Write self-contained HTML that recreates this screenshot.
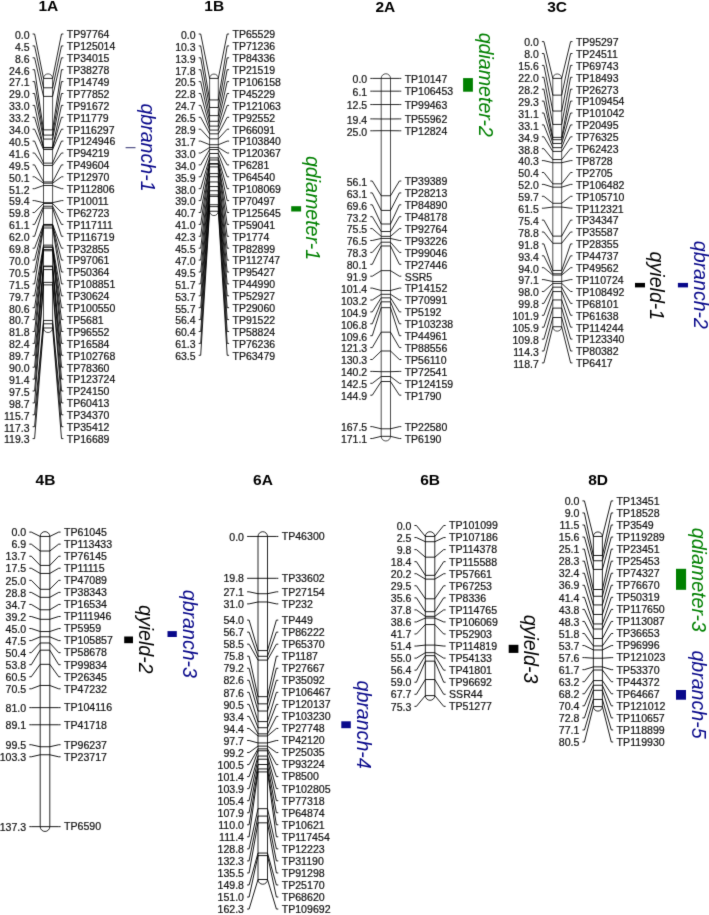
<!DOCTYPE html>
<html><head><meta charset="utf-8"><style>html,body{margin:0;padding:0;background:#fff;}svg{display:block;}text{font-family:"Liberation Sans",Arial,sans-serif;}.l{font-size:10.5px;fill:#111;stroke:#111;stroke-width:0.2px;}.t{font-size:15.5px;font-weight:bold;fill:#000;}.q{font-size:19.6px;font-style:italic;}</style></head><body>
<svg width="709" height="915" viewBox="0 0 709 915">
<defs><filter id="soft" x="0" y="0" width="709" height="915" filterUnits="userSpaceOnUse" color-interpolation-filters="sRGB"><feConvolveMatrix order="3" kernelMatrix="0.01 0.08 0.01 0.08 0.64 0.08 0.01 0.08 0.01" divisor="1" edgeMode="duplicate"/></filter></defs>
<g filter="url(#soft)">
<rect width="709" height="915" fill="#fff"/>
<text class="t" x="48.40" y="11.00" text-anchor="middle">1A</text>
<path d="M43.50,78.40 A4.55,4.55 0 0 1 52.60,78.40 L52.60,327.98 A4.55,4.55 0 0 1 43.50,327.98 Z" fill="#fff" stroke="#000" stroke-width="0.7"/>
<path d="M32.60,34.00H34.60L43.50,78.40H52.60L61.50,34.00H63.40M32.60,45.90H34.60L43.50,87.81H52.60L61.50,45.90H63.40M32.60,57.80H34.60L43.50,96.39H52.60L61.50,57.80H63.40M32.60,69.70H34.60L43.50,129.86H52.60L61.50,69.70H63.40M32.60,81.60H34.60L43.50,135.09H52.60L61.50,81.60H63.40M32.60,93.50H34.60L43.50,139.07H52.60L61.50,93.50H63.40M32.60,105.40H34.60L43.50,147.44H52.60L61.50,105.40H63.40M32.60,117.30H34.60L43.50,147.85H52.60L61.50,117.30H63.40M32.60,129.20H34.60L43.50,149.53H52.60L61.50,129.20H63.40M32.60,141.10H34.60L43.50,163.13H52.60L61.50,141.10H63.40M32.60,153.00H34.60L43.50,165.43H52.60L61.50,153.00H63.40M32.60,164.90H34.60L43.50,181.95H52.60L61.50,164.90H63.40M32.60,176.80H34.60L43.50,183.21H52.60L61.50,176.80H63.40M32.60,188.70H34.60L43.50,185.51H52.60L61.50,188.70H63.40M32.60,200.60H34.60L43.50,202.66H52.60L61.50,200.60H63.40M32.60,212.50H34.60L43.50,203.50H52.60L61.50,212.50H63.40M32.60,224.40H34.60L43.50,206.22H52.60L61.50,224.40H63.40M32.60,236.30H34.60L43.50,208.10H52.60L61.50,236.30H63.40M32.60,248.20H34.60L43.50,224.42H52.60L61.50,248.20H63.40M32.60,260.10H34.60L43.50,224.84H52.60L61.50,260.10H63.40M32.60,272.00H34.60L43.50,225.89H52.60L61.50,272.00H63.40M32.60,283.90H34.60L43.50,227.98H52.60L61.50,283.90H63.40M32.60,295.80H34.60L43.50,245.13H52.60L61.50,295.80H63.40M32.60,307.70H34.60L43.50,247.02H52.60L61.50,307.70H63.40M32.60,319.60H34.60L43.50,247.22H52.60L61.50,319.60H63.40M32.60,331.50H34.60L43.50,249.53H52.60L61.50,331.50H63.40M32.60,343.40H34.60L43.50,250.78H52.60L61.50,343.40H63.40M32.60,355.30H34.60L43.50,266.05H52.60L61.50,355.30H63.40M32.60,367.20H34.60L43.50,266.68H52.60L61.50,367.20H63.40M32.60,379.10H34.60L43.50,269.61H52.60L61.50,379.10H63.40M32.60,391.00H34.60L43.50,282.37H52.60L61.50,391.00H63.40M32.60,402.90H34.60L43.50,284.88H52.60L61.50,402.90H63.40M32.60,414.80H34.60L43.50,320.44H52.60L61.50,414.80H63.40M32.60,426.70H34.60L43.50,323.79H52.60L61.50,426.70H63.40M32.60,438.60H34.60L43.50,327.98H52.60L61.50,438.60H63.40" fill="none" stroke="#000" stroke-width="0.85"/>
<text class="l" x="29.5" y="38.8" text-anchor="end" style="font-size:10.5px">0.0</text><text class="l" x="66.8" y="38.3" style="font-size:10.5px">TP97764</text>
<text class="l" x="29.5" y="50.7" text-anchor="end" style="font-size:10.5px">4.5</text><text class="l" x="66.8" y="50.2" style="font-size:10.5px">TP125014</text>
<text class="l" x="29.5" y="62.6" text-anchor="end" style="font-size:10.5px">8.6</text><text class="l" x="66.8" y="62.1" style="font-size:10.5px">TP34015</text>
<text class="l" x="29.5" y="74.5" text-anchor="end" style="font-size:10.5px">24.6</text><text class="l" x="66.8" y="74.0" style="font-size:10.5px">TP38278</text>
<text class="l" x="29.5" y="86.4" text-anchor="end" style="font-size:10.5px">27.1</text><text class="l" x="66.8" y="85.9" style="font-size:10.5px">TP14749</text>
<text class="l" x="29.5" y="98.3" text-anchor="end" style="font-size:10.5px">29.0</text><text class="l" x="66.8" y="97.8" style="font-size:10.5px">TP77852</text>
<text class="l" x="29.5" y="110.2" text-anchor="end" style="font-size:10.5px">33.0</text><text class="l" x="66.8" y="109.7" style="font-size:10.5px">TP91672</text>
<text class="l" x="29.5" y="122.1" text-anchor="end" style="font-size:10.5px">33.2</text><text class="l" x="66.8" y="121.6" style="font-size:10.5px">TP11779</text>
<text class="l" x="29.5" y="134.0" text-anchor="end" style="font-size:10.5px">34.0</text><text class="l" x="66.8" y="133.5" style="font-size:10.5px">TP116297</text>
<text class="l" x="29.5" y="145.9" text-anchor="end" style="font-size:10.5px">40.5</text><text class="l" x="66.8" y="145.4" style="font-size:10.5px">TP124946</text>
<text class="l" x="29.5" y="157.8" text-anchor="end" style="font-size:10.5px">41.6</text><text class="l" x="66.8" y="157.3" style="font-size:10.5px">TP94219</text>
<text class="l" x="29.5" y="169.7" text-anchor="end" style="font-size:10.5px">49.5</text><text class="l" x="66.8" y="169.2" style="font-size:10.5px">TP49604</text>
<text class="l" x="29.5" y="181.6" text-anchor="end" style="font-size:10.5px">50.1</text><text class="l" x="66.8" y="181.1" style="font-size:10.5px">TP12970</text>
<text class="l" x="29.5" y="193.5" text-anchor="end" style="font-size:10.5px">51.2</text><text class="l" x="66.8" y="193.0" style="font-size:10.5px">TP112806</text>
<text class="l" x="29.5" y="205.4" text-anchor="end" style="font-size:10.5px">59.4</text><text class="l" x="66.8" y="204.9" style="font-size:10.5px">TP10011</text>
<text class="l" x="29.5" y="217.3" text-anchor="end" style="font-size:10.5px">59.8</text><text class="l" x="66.8" y="216.8" style="font-size:10.5px">TP62723</text>
<text class="l" x="29.5" y="229.2" text-anchor="end" style="font-size:10.5px">61.1</text><text class="l" x="66.8" y="228.7" style="font-size:10.5px">TP117111</text>
<text class="l" x="29.5" y="241.1" text-anchor="end" style="font-size:10.5px">62.0</text><text class="l" x="66.8" y="240.6" style="font-size:10.5px">TP116719</text>
<text class="l" x="29.5" y="253.0" text-anchor="end" style="font-size:10.5px">69.8</text><text class="l" x="66.8" y="252.5" style="font-size:10.5px">TP32855</text>
<text class="l" x="29.5" y="264.9" text-anchor="end" style="font-size:10.5px">70.0</text><text class="l" x="66.8" y="264.4" style="font-size:10.5px">TP97061</text>
<text class="l" x="29.5" y="276.8" text-anchor="end" style="font-size:10.5px">70.5</text><text class="l" x="66.8" y="276.3" style="font-size:10.5px">TP50364</text>
<text class="l" x="29.5" y="288.7" text-anchor="end" style="font-size:10.5px">71.5</text><text class="l" x="66.8" y="288.2" style="font-size:10.5px">TP108851</text>
<text class="l" x="29.5" y="300.6" text-anchor="end" style="font-size:10.5px">79.7</text><text class="l" x="66.8" y="300.1" style="font-size:10.5px">TP30624</text>
<text class="l" x="29.5" y="312.5" text-anchor="end" style="font-size:10.5px">80.6</text><text class="l" x="66.8" y="312.0" style="font-size:10.5px">TP100550</text>
<text class="l" x="29.5" y="324.4" text-anchor="end" style="font-size:10.5px">80.7</text><text class="l" x="66.8" y="323.9" style="font-size:10.5px">TP5681</text>
<text class="l" x="29.5" y="336.3" text-anchor="end" style="font-size:10.5px">81.8</text><text class="l" x="66.8" y="335.8" style="font-size:10.5px">TP96552</text>
<text class="l" x="29.5" y="348.2" text-anchor="end" style="font-size:10.5px">82.4</text><text class="l" x="66.8" y="347.7" style="font-size:10.5px">TP16584</text>
<text class="l" x="29.5" y="360.1" text-anchor="end" style="font-size:10.5px">89.7</text><text class="l" x="66.8" y="359.6" style="font-size:10.5px">TP102768</text>
<text class="l" x="29.5" y="372.0" text-anchor="end" style="font-size:10.5px">90.0</text><text class="l" x="66.8" y="371.5" style="font-size:10.5px">TP78360</text>
<text class="l" x="29.5" y="383.9" text-anchor="end" style="font-size:10.5px">91.4</text><text class="l" x="66.8" y="383.4" style="font-size:10.5px">TP123724</text>
<text class="l" x="29.5" y="395.8" text-anchor="end" style="font-size:10.5px">97.5</text><text class="l" x="66.8" y="395.3" style="font-size:10.5px">TP24150</text>
<text class="l" x="29.5" y="407.7" text-anchor="end" style="font-size:10.5px">98.7</text><text class="l" x="66.8" y="407.2" style="font-size:10.5px">TP60413</text>
<text class="l" x="29.5" y="419.6" text-anchor="end" style="font-size:10.5px">115.7</text><text class="l" x="66.8" y="419.1" style="font-size:10.5px">TP34370</text>
<text class="l" x="29.5" y="431.5" text-anchor="end" style="font-size:10.5px">117.3</text><text class="l" x="66.8" y="431.0" style="font-size:10.5px">TP35412</text>
<text class="l" x="29.5" y="443.4" text-anchor="end" style="font-size:10.5px">119.3</text><text class="l" x="66.8" y="442.9" style="font-size:10.5px">TP16689</text>
<rect x="125.6" y="147.2" width="9.9" height="1.0" fill="#2e2e70"/>
<text class="q" fill="#08088a" transform="translate(140.7,147.5) rotate(90)" text-anchor="middle">qbranch-1</text>
<text class="t" x="214.20" y="11.40" text-anchor="middle">1B</text>
<path d="M209.60,78.40 A4.35,4.35 0 0 1 218.30,78.40 L218.30,211.24 A4.35,4.35 0 0 1 209.60,211.24 Z" fill="#fff" stroke="#000" stroke-width="0.7"/>
<path d="M198.70,34.00H200.70L209.60,78.40H218.30L227.20,34.00H229.10M198.70,45.90H200.70L209.60,99.95H218.30L227.20,45.90H229.10M198.70,57.80H200.70L209.60,107.48H218.30L227.20,57.80H229.10M198.70,69.70H200.70L209.60,115.64H218.30L227.20,69.70H229.10M198.70,81.60H200.70L209.60,121.29H218.30L227.20,81.60H229.10M198.70,93.50H200.70L209.60,126.10H218.30L227.20,93.50H229.10M198.70,105.40H200.70L209.60,130.07H218.30L227.20,105.40H229.10M198.70,117.30H200.70L209.60,133.84H218.30L227.20,117.30H229.10M198.70,129.20H200.70L209.60,138.86H218.30L227.20,129.20H229.10M198.70,141.10H200.70L209.60,144.72H218.30L227.20,141.10H229.10M198.70,153.00H200.70L209.60,147.44H218.30L227.20,153.00H229.10M198.70,164.90H200.70L209.60,149.53H218.30L227.20,164.90H229.10M198.70,176.80H200.70L209.60,153.50H218.30L227.20,176.80H229.10M198.70,188.70H200.70L209.60,157.90H218.30L227.20,188.70H229.10M198.70,200.60H200.70L209.60,159.99H218.30L227.20,200.60H229.10M198.70,212.50H200.70L209.60,163.54H218.30L227.20,212.50H229.10M198.70,224.40H200.70L209.60,164.17H218.30L227.20,224.40H229.10M198.70,236.30H200.70L209.60,166.89H218.30L227.20,236.30H229.10M198.70,248.20H200.70L209.60,173.59H218.30L227.20,248.20H229.10M198.70,260.10H200.70L209.60,176.72H218.30L227.20,260.10H229.10M198.70,272.00H200.70L209.60,181.95H218.30L227.20,272.00H229.10M198.70,283.90H200.70L209.60,186.56H218.30L227.20,283.90H229.10M198.70,295.80H200.70L209.60,190.74H218.30L227.20,295.80H229.10M198.70,307.70H200.70L209.60,194.92H218.30L227.20,307.70H229.10M198.70,319.60H200.70L209.60,196.39H218.30L227.20,319.60H229.10M198.70,331.50H200.70L209.60,204.76H218.30L227.20,331.50H229.10M198.70,343.40H200.70L209.60,206.64H218.30L227.20,343.40H229.10M198.70,355.30H200.70L209.60,211.24H218.30L227.20,355.30H229.10" fill="none" stroke="#000" stroke-width="0.85"/>
<text class="l" x="195.6" y="38.8" text-anchor="end" style="font-size:10.5px">0.0</text><text class="l" x="232.5" y="38.3" style="font-size:10.5px">TP65529</text>
<text class="l" x="195.6" y="50.7" text-anchor="end" style="font-size:10.5px">10.3</text><text class="l" x="232.5" y="50.2" style="font-size:10.5px">TP71236</text>
<text class="l" x="195.6" y="62.6" text-anchor="end" style="font-size:10.5px">13.9</text><text class="l" x="232.5" y="62.1" style="font-size:10.5px">TP84336</text>
<text class="l" x="195.6" y="74.5" text-anchor="end" style="font-size:10.5px">17.8</text><text class="l" x="232.5" y="74.0" style="font-size:10.5px">TP21519</text>
<text class="l" x="195.6" y="86.4" text-anchor="end" style="font-size:10.5px">20.5</text><text class="l" x="232.5" y="85.9" style="font-size:10.5px">TP106158</text>
<text class="l" x="195.6" y="98.3" text-anchor="end" style="font-size:10.5px">22.8</text><text class="l" x="232.5" y="97.8" style="font-size:10.5px">TP45229</text>
<text class="l" x="195.6" y="110.2" text-anchor="end" style="font-size:10.5px">24.7</text><text class="l" x="232.5" y="109.7" style="font-size:10.5px">TP121063</text>
<text class="l" x="195.6" y="122.1" text-anchor="end" style="font-size:10.5px">26.5</text><text class="l" x="232.5" y="121.6" style="font-size:10.5px">TP92552</text>
<text class="l" x="195.6" y="134.0" text-anchor="end" style="font-size:10.5px">28.9</text><text class="l" x="232.5" y="133.5" style="font-size:10.5px">TP66091</text>
<text class="l" x="195.6" y="145.9" text-anchor="end" style="font-size:10.5px">31.7</text><text class="l" x="232.5" y="145.4" style="font-size:10.5px">TP103840</text>
<text class="l" x="195.6" y="157.8" text-anchor="end" style="font-size:10.5px">33.0</text><text class="l" x="232.5" y="157.3" style="font-size:10.5px">TP120367</text>
<text class="l" x="195.6" y="169.7" text-anchor="end" style="font-size:10.5px">34.0</text><text class="l" x="232.5" y="169.2" style="font-size:10.5px">TP6281</text>
<text class="l" x="195.6" y="181.6" text-anchor="end" style="font-size:10.5px">35.9</text><text class="l" x="232.5" y="181.1" style="font-size:10.5px">TP64540</text>
<text class="l" x="195.6" y="193.5" text-anchor="end" style="font-size:10.5px">38.0</text><text class="l" x="232.5" y="193.0" style="font-size:10.5px">TP108069</text>
<text class="l" x="195.6" y="205.4" text-anchor="end" style="font-size:10.5px">39.0</text><text class="l" x="232.5" y="204.9" style="font-size:10.5px">TP70497</text>
<text class="l" x="195.6" y="217.3" text-anchor="end" style="font-size:10.5px">40.7</text><text class="l" x="232.5" y="216.8" style="font-size:10.5px">TP125645</text>
<text class="l" x="195.6" y="229.2" text-anchor="end" style="font-size:10.5px">41.0</text><text class="l" x="232.5" y="228.7" style="font-size:10.5px">TP59041</text>
<text class="l" x="195.6" y="241.1" text-anchor="end" style="font-size:10.5px">42.3</text><text class="l" x="232.5" y="240.6" style="font-size:10.5px">TP1774</text>
<text class="l" x="195.6" y="253.0" text-anchor="end" style="font-size:10.5px">45.5</text><text class="l" x="232.5" y="252.5" style="font-size:10.5px">TP82899</text>
<text class="l" x="195.6" y="264.9" text-anchor="end" style="font-size:10.5px">47.0</text><text class="l" x="232.5" y="264.4" style="font-size:10.5px">TP112747</text>
<text class="l" x="195.6" y="276.8" text-anchor="end" style="font-size:10.5px">49.5</text><text class="l" x="232.5" y="276.3" style="font-size:10.5px">TP95427</text>
<text class="l" x="195.6" y="288.7" text-anchor="end" style="font-size:10.5px">51.7</text><text class="l" x="232.5" y="288.2" style="font-size:10.5px">TP44990</text>
<text class="l" x="195.6" y="300.6" text-anchor="end" style="font-size:10.5px">53.7</text><text class="l" x="232.5" y="300.1" style="font-size:10.5px">TP52927</text>
<text class="l" x="195.6" y="312.5" text-anchor="end" style="font-size:10.5px">55.7</text><text class="l" x="232.5" y="312.0" style="font-size:10.5px">TP29060</text>
<text class="l" x="195.6" y="324.4" text-anchor="end" style="font-size:10.5px">56.4</text><text class="l" x="232.5" y="323.9" style="font-size:10.5px">TP91522</text>
<text class="l" x="195.6" y="336.3" text-anchor="end" style="font-size:10.5px">60.4</text><text class="l" x="232.5" y="335.8" style="font-size:10.5px">TP58824</text>
<text class="l" x="195.6" y="348.2" text-anchor="end" style="font-size:10.5px">61.3</text><text class="l" x="232.5" y="347.7" style="font-size:10.5px">TP76236</text>
<text class="l" x="195.6" y="360.1" text-anchor="end" style="font-size:10.5px">63.5</text><text class="l" x="232.5" y="359.6" style="font-size:10.5px">TP63479</text>
<rect x="291.2" y="206.2" width="9.9" height="5.3" fill="#008000"/>
<text class="q" fill="#008000" transform="translate(305.8,208.0) rotate(90)" text-anchor="middle">qdiameter-1</text>
<text class="t" x="385.40" y="11.80" text-anchor="middle">2A</text>
<path d="M381.20,78.40 A4.65,4.65 0 0 1 390.50,78.40 L390.50,436.34 A4.65,4.65 0 0 1 381.20,436.34 Z" fill="#fff" stroke="#000" stroke-width="0.7"/>
<path d="M370.30,78.40H372.30L381.20,78.40H390.50L399.40,78.40H401.30M370.30,91.16H372.30L381.20,91.16H390.50L399.40,91.16H401.30M370.30,104.55H372.30L381.20,104.55H390.50L399.40,104.55H401.30M370.30,118.89H372.30L381.20,118.98H390.50L399.40,118.89H401.30M370.30,130.79H372.30L381.20,130.70H390.50L399.40,130.79H401.30M370.30,181.00H372.30L381.20,195.76H390.50L399.40,181.00H401.30M370.30,192.90H372.30L381.20,210.41H390.50L399.40,192.90H401.30M370.30,204.80H372.30L381.20,224.00H390.50L399.40,204.80H401.30M370.30,216.70H372.30L381.20,231.53H390.50L399.40,216.70H401.30M370.30,228.60H372.30L381.20,236.35H390.50L399.40,228.60H401.30M370.30,240.50H372.30L381.20,238.44H390.50L399.40,240.50H401.30M370.30,252.40H372.30L381.20,242.20H390.50L399.40,252.40H401.30M370.30,264.30H372.30L381.20,245.97H390.50L399.40,264.30H401.30M370.30,276.20H372.30L381.20,270.65H390.50L399.40,276.20H401.30M370.30,288.10H372.30L381.20,290.53H390.50L399.40,288.10H401.30M370.30,300.00H372.30L381.20,294.29H390.50L399.40,300.00H401.30M370.30,311.90H372.30L381.20,297.85H390.50L399.40,311.90H401.30M370.30,323.80H372.30L381.20,301.83H390.50L399.40,323.80H401.30M370.30,335.70H372.30L381.20,307.68H390.50L399.40,335.70H401.30M370.30,347.60H372.30L381.20,332.16H390.50L399.40,347.60H401.30M370.30,359.50H372.30L381.20,350.99H390.50L399.40,359.50H401.30M370.30,371.40H372.30L381.20,371.70H390.50L399.40,371.40H401.30M370.30,383.30H372.30L381.20,376.51H390.50L399.40,383.30H401.30M370.30,395.20H372.30L381.20,381.53H390.50L399.40,395.20H401.30M370.30,426.63H372.30L381.20,428.81H390.50L399.40,426.63H401.30M370.30,438.53H372.30L381.20,436.34H390.50L399.40,438.53H401.30" fill="none" stroke="#000" stroke-width="0.85"/>
<text class="l" x="367.2" y="83.2" text-anchor="end" style="font-size:10.5px">0.0</text><text class="l" x="404.7" y="82.7" style="font-size:10.5px">TP10147</text>
<text class="l" x="367.2" y="95.9" text-anchor="end" style="font-size:10.5px">6.1</text><text class="l" x="404.7" y="95.4" style="font-size:10.5px">TP106453</text>
<text class="l" x="367.2" y="109.3" text-anchor="end" style="font-size:10.5px">12.5</text><text class="l" x="404.7" y="108.8" style="font-size:10.5px">TP99463</text>
<text class="l" x="367.2" y="123.7" text-anchor="end" style="font-size:10.5px">19.4</text><text class="l" x="404.7" y="123.2" style="font-size:10.5px">TP55962</text>
<text class="l" x="367.2" y="135.6" text-anchor="end" style="font-size:10.5px">25.0</text><text class="l" x="404.7" y="135.1" style="font-size:10.5px">TP12824</text>
<text class="l" x="367.2" y="185.8" text-anchor="end" style="font-size:10.5px">56.1</text><text class="l" x="404.7" y="185.3" style="font-size:10.5px">TP39389</text>
<text class="l" x="367.2" y="197.7" text-anchor="end" style="font-size:10.5px">63.1</text><text class="l" x="404.7" y="197.2" style="font-size:10.5px">TP28213</text>
<text class="l" x="367.2" y="209.6" text-anchor="end" style="font-size:10.5px">69.6</text><text class="l" x="404.7" y="209.1" style="font-size:10.5px">TP84890</text>
<text class="l" x="367.2" y="221.5" text-anchor="end" style="font-size:10.5px">73.2</text><text class="l" x="404.7" y="221.0" style="font-size:10.5px">TP48178</text>
<text class="l" x="367.2" y="233.4" text-anchor="end" style="font-size:10.5px">75.5</text><text class="l" x="404.7" y="232.9" style="font-size:10.5px">TP92764</text>
<text class="l" x="367.2" y="245.3" text-anchor="end" style="font-size:10.5px">76.5</text><text class="l" x="404.7" y="244.8" style="font-size:10.5px">TP93226</text>
<text class="l" x="367.2" y="257.2" text-anchor="end" style="font-size:10.5px">78.3</text><text class="l" x="404.7" y="256.7" style="font-size:10.5px">TP99046</text>
<text class="l" x="367.2" y="269.1" text-anchor="end" style="font-size:10.5px">80.1</text><text class="l" x="404.7" y="268.6" style="font-size:10.5px">TP27446</text>
<text class="l" x="367.2" y="281.0" text-anchor="end" style="font-size:10.5px">91.9</text><text class="l" x="404.7" y="280.5" style="font-size:10.5px">SSR5</text>
<text class="l" x="367.2" y="292.9" text-anchor="end" style="font-size:10.5px">101.4</text><text class="l" x="404.7" y="292.4" style="font-size:10.5px">TP14152</text>
<text class="l" x="367.2" y="304.8" text-anchor="end" style="font-size:10.5px">103.2</text><text class="l" x="404.7" y="304.3" style="font-size:10.5px">TP70991</text>
<text class="l" x="367.2" y="316.7" text-anchor="end" style="font-size:10.5px">104.9</text><text class="l" x="404.7" y="316.2" style="font-size:10.5px">TP5192</text>
<text class="l" x="367.2" y="328.6" text-anchor="end" style="font-size:10.5px">106.8</text><text class="l" x="404.7" y="328.1" style="font-size:10.5px">TP103238</text>
<text class="l" x="367.2" y="340.5" text-anchor="end" style="font-size:10.5px">109.6</text><text class="l" x="404.7" y="340.0" style="font-size:10.5px">TP44961</text>
<text class="l" x="367.2" y="352.4" text-anchor="end" style="font-size:10.5px">121.3</text><text class="l" x="404.7" y="351.9" style="font-size:10.5px">TP88556</text>
<text class="l" x="367.2" y="364.3" text-anchor="end" style="font-size:10.5px">130.3</text><text class="l" x="404.7" y="363.8" style="font-size:10.5px">TP56110</text>
<text class="l" x="367.2" y="376.2" text-anchor="end" style="font-size:10.5px">140.2</text><text class="l" x="404.7" y="375.7" style="font-size:10.5px">TP72541</text>
<text class="l" x="367.2" y="388.1" text-anchor="end" style="font-size:10.5px">142.5</text><text class="l" x="404.7" y="387.6" style="font-size:10.5px">TP124159</text>
<text class="l" x="367.2" y="400.0" text-anchor="end" style="font-size:10.5px">144.9</text><text class="l" x="404.7" y="399.5" style="font-size:10.5px">TP1790</text>
<text class="l" x="367.2" y="431.4" text-anchor="end" style="font-size:10.5px">167.5</text><text class="l" x="404.7" y="430.9" style="font-size:10.5px">TP22580</text>
<text class="l" x="367.2" y="443.3" text-anchor="end" style="font-size:10.5px">171.1</text><text class="l" x="404.7" y="442.8" style="font-size:10.5px">TP6190</text>
<rect x="463.1" y="78.1" width="9.8" height="13.6" fill="#008000"/>
<text class="q" fill="#008000" transform="translate(479.0,84.8) rotate(90)" text-anchor="middle">qdiameter-2</text>
<text class="t" x="557.10" y="11.52" text-anchor="middle">3C</text>
<path d="M552.80,78.40 A4.45,4.45 0 0 1 561.70,78.40 L561.70,326.72 A4.45,4.45 0 0 1 552.80,326.72 Z" fill="#fff" stroke="#000" stroke-width="0.7"/>
<path d="M541.90,41.60H543.90L552.80,78.40H561.70L570.60,41.60H572.50M541.90,53.50H543.90L552.80,95.14H561.70L570.60,53.50H572.50M541.90,65.40H543.90L552.80,111.04H561.70L570.60,65.40H572.50M541.90,77.30H543.90L552.80,124.42H561.70L570.60,77.30H572.50M541.90,89.20H543.90L552.80,137.39H561.70L570.60,89.20H572.50M541.90,101.10H543.90L552.80,139.70H561.70L570.60,101.10H572.50M541.90,113.00H543.90L552.80,143.46H561.70L570.60,113.00H572.50M541.90,124.90H543.90L552.80,147.65H561.70L570.60,124.90H572.50M541.90,136.80H543.90L552.80,151.41H561.70L570.60,136.80H572.50M541.90,148.70H543.90L552.80,159.57H561.70L570.60,148.70H572.50M541.90,160.60H543.90L552.80,162.71H561.70L570.60,160.60H572.50M541.90,172.50H543.90L552.80,183.84H561.70L570.60,172.50H572.50M541.90,184.40H543.90L552.80,187.18H561.70L570.60,184.40H572.50M541.90,196.30H543.90L552.80,203.29H561.70L570.60,196.30H572.50M541.90,208.20H543.90L552.80,207.06H561.70L570.60,208.20H572.50M541.90,220.10H543.90L552.80,236.14H561.70L570.60,220.10H572.50M541.90,232.00H543.90L552.80,243.25H561.70L570.60,232.00H572.50M541.90,243.90H543.90L552.80,270.45H561.70L570.60,243.90H572.50M541.90,255.80H543.90L552.80,273.79H561.70L570.60,255.80H572.50M541.90,267.70H543.90L552.80,275.05H561.70L570.60,267.70H572.50M541.90,279.60H543.90L552.80,281.53H561.70L570.60,279.60H572.50M541.90,291.50H543.90L552.80,283.42H561.70L570.60,291.50H572.50M541.90,303.40H543.90L552.80,287.18H561.70L570.60,303.40H572.50M541.90,315.30H543.90L552.80,291.57H561.70L570.60,315.30H572.50M541.90,327.20H543.90L552.80,299.94H561.70L570.60,327.20H572.50M541.90,339.10H543.90L552.80,308.10H561.70L570.60,339.10H572.50M541.90,351.00H543.90L552.80,317.52H561.70L570.60,351.00H572.50M541.90,362.90H543.90L552.80,326.72H561.70L570.60,362.90H572.50" fill="none" stroke="#000" stroke-width="0.85"/>
<text class="l" x="538.8" y="46.4" text-anchor="end" style="font-size:10.5px">0.0</text><text class="l" x="575.9" y="45.9" style="font-size:10.5px">TP95297</text>
<text class="l" x="538.8" y="58.3" text-anchor="end" style="font-size:10.5px">8.0</text><text class="l" x="575.9" y="57.8" style="font-size:10.5px">TP24511</text>
<text class="l" x="538.8" y="70.2" text-anchor="end" style="font-size:10.5px">15.6</text><text class="l" x="575.9" y="69.7" style="font-size:10.5px">TP69743</text>
<text class="l" x="538.8" y="82.1" text-anchor="end" style="font-size:10.5px">22.0</text><text class="l" x="575.9" y="81.6" style="font-size:10.5px">TP18493</text>
<text class="l" x="538.8" y="94.0" text-anchor="end" style="font-size:10.5px">28.2</text><text class="l" x="575.9" y="93.5" style="font-size:10.5px">TP26273</text>
<text class="l" x="538.8" y="105.9" text-anchor="end" style="font-size:10.5px">29.3</text><text class="l" x="575.9" y="105.4" style="font-size:10.5px">TP109454</text>
<text class="l" x="538.8" y="117.8" text-anchor="end" style="font-size:10.5px">31.1</text><text class="l" x="575.9" y="117.3" style="font-size:10.5px">TP101042</text>
<text class="l" x="538.8" y="129.7" text-anchor="end" style="font-size:10.5px">33.1</text><text class="l" x="575.9" y="129.2" style="font-size:10.5px">TP20495</text>
<text class="l" x="538.8" y="141.6" text-anchor="end" style="font-size:10.5px">34.9</text><text class="l" x="575.9" y="141.1" style="font-size:10.5px">TP76325</text>
<text class="l" x="538.8" y="153.5" text-anchor="end" style="font-size:10.5px">38.8</text><text class="l" x="575.9" y="153.0" style="font-size:10.5px">TP62423</text>
<text class="l" x="538.8" y="165.4" text-anchor="end" style="font-size:10.5px">40.3</text><text class="l" x="575.9" y="164.9" style="font-size:10.5px">TP8728</text>
<text class="l" x="538.8" y="177.3" text-anchor="end" style="font-size:10.5px">50.4</text><text class="l" x="575.9" y="176.8" style="font-size:10.5px">TP2705</text>
<text class="l" x="538.8" y="189.2" text-anchor="end" style="font-size:10.5px">52.0</text><text class="l" x="575.9" y="188.7" style="font-size:10.5px">TP106482</text>
<text class="l" x="538.8" y="201.1" text-anchor="end" style="font-size:10.5px">59.7</text><text class="l" x="575.9" y="200.6" style="font-size:10.5px">TP105710</text>
<text class="l" x="538.8" y="213.0" text-anchor="end" style="font-size:10.5px">61.5</text><text class="l" x="575.9" y="212.5" style="font-size:10.5px">TP112321</text>
<text class="l" x="538.8" y="224.9" text-anchor="end" style="font-size:10.5px">75.4</text><text class="l" x="575.9" y="224.4" style="font-size:10.5px">TP34347</text>
<text class="l" x="538.8" y="236.8" text-anchor="end" style="font-size:10.5px">78.8</text><text class="l" x="575.9" y="236.3" style="font-size:10.5px">TP35587</text>
<text class="l" x="538.8" y="248.7" text-anchor="end" style="font-size:10.5px">91.8</text><text class="l" x="575.9" y="248.2" style="font-size:10.5px">TP28355</text>
<text class="l" x="538.8" y="260.6" text-anchor="end" style="font-size:10.5px">93.4</text><text class="l" x="575.9" y="260.1" style="font-size:10.5px">TP44737</text>
<text class="l" x="538.8" y="272.5" text-anchor="end" style="font-size:10.5px">94.0</text><text class="l" x="575.9" y="272.0" style="font-size:10.5px">TP49562</text>
<text class="l" x="538.8" y="284.4" text-anchor="end" style="font-size:10.5px">97.1</text><text class="l" x="575.9" y="283.9" style="font-size:10.5px">TP110724</text>
<text class="l" x="538.8" y="296.3" text-anchor="end" style="font-size:10.5px">98.0</text><text class="l" x="575.9" y="295.8" style="font-size:10.5px">TP108492</text>
<text class="l" x="538.8" y="308.2" text-anchor="end" style="font-size:10.5px">99.8</text><text class="l" x="575.9" y="307.7" style="font-size:10.5px">TP68101</text>
<text class="l" x="538.8" y="320.1" text-anchor="end" style="font-size:10.5px">101.9</text><text class="l" x="575.9" y="319.6" style="font-size:10.5px">TP61638</text>
<text class="l" x="538.8" y="332.0" text-anchor="end" style="font-size:10.5px">105.9</text><text class="l" x="575.9" y="331.5" style="font-size:10.5px">TP114244</text>
<text class="l" x="538.8" y="343.9" text-anchor="end" style="font-size:10.5px">109.8</text><text class="l" x="575.9" y="343.4" style="font-size:10.5px">TP123340</text>
<text class="l" x="538.8" y="355.8" text-anchor="end" style="font-size:10.5px">114.3</text><text class="l" x="575.9" y="355.3" style="font-size:10.5px">TP80382</text>
<text class="l" x="538.8" y="367.7" text-anchor="end" style="font-size:10.5px">118.7</text><text class="l" x="575.9" y="367.2" style="font-size:10.5px">TP6417</text>
<rect x="635.0" y="282.9" width="10.0" height="4.5" fill="#000000"/>
<text class="q" fill="#000000" transform="translate(650.4,285.9) rotate(90)" text-anchor="middle">qyield-1</text>
<rect x="677.9" y="282.9" width="10.1" height="4.5" fill="#08088a"/>
<text class="q" fill="#08088a" transform="translate(693.5,284.9) rotate(90)" text-anchor="middle">qbranch-2</text>
<text class="t" x="45.50" y="485.20" text-anchor="middle">4B</text>
<path d="M40.20,536.45 A4.80,4.80 0 0 1 49.80,536.45 L49.80,826.65 A4.80,4.80 0 0 1 40.20,826.65 Z" fill="#fff" stroke="#000" stroke-width="0.85"/>
<path d="M29.30,532.10H31.30L40.20,536.45H49.80L58.70,532.10H60.60M29.30,544.15H31.30L40.20,551.03H49.80L58.70,544.15H60.60M29.30,556.21H31.30L40.20,565.41H49.80L58.70,556.21H60.60M29.30,568.26H31.30L40.20,573.44H49.80L58.70,568.26H60.60M29.30,580.32H31.30L40.20,589.29H49.80L58.70,580.32H60.60M29.30,592.38H31.30L40.20,597.32H49.80L58.70,592.38H60.60M29.30,604.43H31.30L40.20,609.79H49.80L58.70,604.43H60.60M29.30,616.49H31.30L40.20,619.30H49.80L58.70,616.49H60.60M29.30,628.54H31.30L40.20,631.56H49.80L58.70,628.54H60.60M29.30,640.60H31.30L40.20,636.85H49.80L58.70,640.60H60.60M29.30,652.65H31.30L40.20,642.98H49.80L58.70,652.65H60.60M29.30,664.71H31.30L40.20,650.16H49.80L58.70,664.71H60.60M29.30,676.76H31.30L40.20,664.32H49.80L58.70,676.76H60.60M29.30,688.82H31.30L40.20,685.46H49.80L58.70,688.82H60.60M29.30,707.65H31.30L40.20,707.65H49.80L58.70,707.65H60.60M29.30,724.77H31.30L40.20,724.77H49.80L58.70,724.77H60.60M29.30,744.74H31.30L40.20,746.75H49.80L58.70,744.74H60.60M29.30,756.80H31.30L40.20,754.78H49.80L58.70,756.80H60.60M29.30,826.65H31.30L40.20,826.65H49.80L58.70,826.65H60.60" fill="none" stroke="#000" stroke-width="0.9"/>
<text class="l" x="26.2" y="536.2" text-anchor="end" style="font-size:10.6px">0.0</text><text class="l" x="64.0" y="535.9" style="font-size:10.6px">TP61045</text>
<text class="l" x="26.2" y="548.3" text-anchor="end" style="font-size:10.6px">6.9</text><text class="l" x="64.0" y="547.9" style="font-size:10.6px">TP113433</text>
<text class="l" x="26.2" y="560.4" text-anchor="end" style="font-size:10.6px">13.7</text><text class="l" x="64.0" y="560.0" style="font-size:10.6px">TP76145</text>
<text class="l" x="26.2" y="572.4" text-anchor="end" style="font-size:10.6px">17.5</text><text class="l" x="64.0" y="572.1" style="font-size:10.6px">TP11115</text>
<text class="l" x="26.2" y="584.5" text-anchor="end" style="font-size:10.6px">25.0</text><text class="l" x="64.0" y="584.1" style="font-size:10.6px">TP47089</text>
<text class="l" x="26.2" y="596.5" text-anchor="end" style="font-size:10.6px">28.8</text><text class="l" x="64.0" y="596.2" style="font-size:10.6px">TP38343</text>
<text class="l" x="26.2" y="608.6" text-anchor="end" style="font-size:10.6px">34.7</text><text class="l" x="64.0" y="608.2" style="font-size:10.6px">TP16534</text>
<text class="l" x="26.2" y="620.6" text-anchor="end" style="font-size:10.6px">39.2</text><text class="l" x="64.0" y="620.3" style="font-size:10.6px">TP111946</text>
<text class="l" x="26.2" y="632.7" text-anchor="end" style="font-size:10.6px">45.0</text><text class="l" x="64.0" y="632.3" style="font-size:10.6px">TP5959</text>
<text class="l" x="26.2" y="644.7" text-anchor="end" style="font-size:10.6px">47.5</text><text class="l" x="64.0" y="644.4" style="font-size:10.6px">TP105857</text>
<text class="l" x="26.2" y="656.8" text-anchor="end" style="font-size:10.6px">50.4</text><text class="l" x="64.0" y="656.4" style="font-size:10.6px">TP58678</text>
<text class="l" x="26.2" y="668.8" text-anchor="end" style="font-size:10.6px">53.8</text><text class="l" x="64.0" y="668.5" style="font-size:10.6px">TP99834</text>
<text class="l" x="26.2" y="680.9" text-anchor="end" style="font-size:10.6px">60.5</text><text class="l" x="64.0" y="680.6" style="font-size:10.6px">TP26345</text>
<text class="l" x="26.2" y="693.0" text-anchor="end" style="font-size:10.6px">70.5</text><text class="l" x="64.0" y="692.6" style="font-size:10.6px">TP47232</text>
<text class="l" x="26.2" y="711.8" text-anchor="end" style="font-size:10.6px">81.0</text><text class="l" x="64.0" y="711.4" style="font-size:10.6px">TP104116</text>
<text class="l" x="26.2" y="728.9" text-anchor="end" style="font-size:10.6px">89.1</text><text class="l" x="64.0" y="728.6" style="font-size:10.6px">TP41718</text>
<text class="l" x="26.2" y="748.9" text-anchor="end" style="font-size:10.6px">99.5</text><text class="l" x="64.0" y="748.5" style="font-size:10.6px">TP96237</text>
<text class="l" x="26.2" y="760.9" text-anchor="end" style="font-size:10.6px">103.3</text><text class="l" x="64.0" y="760.6" style="font-size:10.6px">TP23717</text>
<text class="l" x="26.2" y="830.8" text-anchor="end" style="font-size:10.6px">137.3</text><text class="l" x="64.0" y="830.4" style="font-size:10.6px">TP6590</text>
<rect x="124.2" y="636.5" width="8.8" height="6.7" fill="#000000"/>
<text class="q" fill="#000000" transform="translate(138.8,639.3) rotate(90)" text-anchor="middle">qyield-2</text>
<rect x="167.5" y="631.1" width="9.3" height="5.9" fill="#08088a"/>
<text class="q" fill="#08088a" transform="translate(183.2,633.9) rotate(90)" text-anchor="middle">qbranch-3</text>
<text class="t" x="263.00" y="485.20" text-anchor="middle">6A</text>
<path d="M258.00,536.45 A4.75,4.75 0 0 1 267.50,536.45 L267.50,879.49 A4.75,4.75 0 0 1 258.00,879.49 Z" fill="#fff" stroke="#000" stroke-width="0.85"/>
<path d="M247.10,536.45H249.10L258.00,536.45H267.50L276.40,536.45H278.30M247.10,578.30H249.10L258.00,578.30H267.50L276.40,578.30H278.30M247.10,591.82H249.10L258.00,593.73H267.50L276.40,591.82H278.30M247.10,603.88H249.10L258.00,601.97H267.50L276.40,603.88H278.30M247.10,620.10H249.10L258.00,650.58H267.50L276.40,620.10H278.30M247.10,632.14H249.10L258.00,656.29H267.50L276.40,632.14H278.30M247.10,644.18H249.10L258.00,660.10H267.50L276.40,644.18H278.30M247.10,656.22H249.10L258.00,696.66H267.50L276.40,656.22H278.30M247.10,668.26H249.10L258.00,703.85H267.50L276.40,668.26H278.30M247.10,680.30H249.10L258.00,711.03H267.50L276.40,680.30H278.30M247.10,692.34H249.10L258.00,721.60H267.50L276.40,692.34H278.30M247.10,704.38H249.10L258.00,727.73H267.50L276.40,704.38H278.30M247.10,716.42H249.10L258.00,733.86H267.50L276.40,716.42H278.30M247.10,728.46H249.10L258.00,735.97H267.50L276.40,728.46H278.30M247.10,740.50H249.10L258.00,742.95H267.50L276.40,740.50H278.30M247.10,752.54H249.10L258.00,746.12H267.50L276.40,752.54H278.30M247.10,764.58H249.10L258.00,748.87H267.50L276.40,764.58H278.30M247.10,776.62H249.10L258.00,750.77H267.50L276.40,776.62H278.30M247.10,788.66H249.10L258.00,756.05H267.50L276.40,788.66H278.30M247.10,800.70H249.10L258.00,759.22H267.50L276.40,800.70H278.30M247.10,812.74H249.10L258.00,764.51H267.50L276.40,812.74H278.30M247.10,824.78H249.10L258.00,768.95H267.50L276.40,824.78H278.30M247.10,836.82H249.10L258.00,771.91H267.50L276.40,836.82H278.30M247.10,848.86H249.10L258.00,808.68H267.50L276.40,848.86H278.30M247.10,860.90H249.10L258.00,816.08H267.50L276.40,860.90H278.30M247.10,872.94H249.10L258.00,822.84H267.50L276.40,872.94H278.30M247.10,884.98H249.10L258.00,853.07H267.50L276.40,884.98H278.30M247.10,897.02H249.10L258.00,855.60H267.50L276.40,897.02H278.30M247.10,909.06H249.10L258.00,879.49H267.50L276.40,909.06H278.30" fill="none" stroke="#000" stroke-width="0.9"/>
<text class="l" x="244.0" y="540.6" text-anchor="end" style="font-size:10.6px">0.0</text><text class="l" x="281.7" y="540.2" style="font-size:10.6px">TP46300</text>
<text class="l" x="244.0" y="582.4" text-anchor="end" style="font-size:10.6px">19.8</text><text class="l" x="281.7" y="582.1" style="font-size:10.6px">TP33602</text>
<text class="l" x="244.0" y="596.0" text-anchor="end" style="font-size:10.6px">27.1</text><text class="l" x="281.7" y="595.6" style="font-size:10.6px">TP27154</text>
<text class="l" x="244.0" y="608.0" text-anchor="end" style="font-size:10.6px">31.0</text><text class="l" x="281.7" y="607.7" style="font-size:10.6px">TP232</text>
<text class="l" x="244.0" y="624.2" text-anchor="end" style="font-size:10.6px">54.0</text><text class="l" x="281.7" y="623.9" style="font-size:10.6px">TP449</text>
<text class="l" x="244.0" y="636.3" text-anchor="end" style="font-size:10.6px">56.7</text><text class="l" x="281.7" y="635.9" style="font-size:10.6px">TP86222</text>
<text class="l" x="244.0" y="648.3" text-anchor="end" style="font-size:10.6px">58.5</text><text class="l" x="281.7" y="648.0" style="font-size:10.6px">TP65370</text>
<text class="l" x="244.0" y="660.4" text-anchor="end" style="font-size:10.6px">75.8</text><text class="l" x="281.7" y="660.0" style="font-size:10.6px">TP1187</text>
<text class="l" x="244.0" y="672.4" text-anchor="end" style="font-size:10.6px">79.2</text><text class="l" x="281.7" y="672.1" style="font-size:10.6px">TP27667</text>
<text class="l" x="244.0" y="684.4" text-anchor="end" style="font-size:10.6px">82.6</text><text class="l" x="281.7" y="684.1" style="font-size:10.6px">TP35092</text>
<text class="l" x="244.0" y="696.5" text-anchor="end" style="font-size:10.6px">87.6</text><text class="l" x="281.7" y="696.1" style="font-size:10.6px">TP106467</text>
<text class="l" x="244.0" y="708.5" text-anchor="end" style="font-size:10.6px">90.5</text><text class="l" x="281.7" y="708.2" style="font-size:10.6px">TP120137</text>
<text class="l" x="244.0" y="720.6" text-anchor="end" style="font-size:10.6px">93.4</text><text class="l" x="281.7" y="720.2" style="font-size:10.6px">TP103230</text>
<text class="l" x="244.0" y="732.6" text-anchor="end" style="font-size:10.6px">94.4</text><text class="l" x="281.7" y="732.3" style="font-size:10.6px">TP27748</text>
<text class="l" x="244.0" y="744.6" text-anchor="end" style="font-size:10.6px">97.7</text><text class="l" x="281.7" y="744.3" style="font-size:10.6px">TP42120</text>
<text class="l" x="244.0" y="756.7" text-anchor="end" style="font-size:10.6px">99.2</text><text class="l" x="281.7" y="756.3" style="font-size:10.6px">TP25035</text>
<text class="l" x="244.0" y="768.7" text-anchor="end" style="font-size:10.6px">100.5</text><text class="l" x="281.7" y="768.4" style="font-size:10.6px">TP93224</text>
<text class="l" x="244.0" y="780.8" text-anchor="end" style="font-size:10.6px">101.4</text><text class="l" x="281.7" y="780.4" style="font-size:10.6px">TP8500</text>
<text class="l" x="244.0" y="792.8" text-anchor="end" style="font-size:10.6px">103.9</text><text class="l" x="281.7" y="792.5" style="font-size:10.6px">TP102805</text>
<text class="l" x="244.0" y="804.8" text-anchor="end" style="font-size:10.6px">105.4</text><text class="l" x="281.7" y="804.5" style="font-size:10.6px">TP77318</text>
<text class="l" x="244.0" y="816.9" text-anchor="end" style="font-size:10.6px">107.9</text><text class="l" x="281.7" y="816.5" style="font-size:10.6px">TP64874</text>
<text class="l" x="244.0" y="828.9" text-anchor="end" style="font-size:10.6px">110.0</text><text class="l" x="281.7" y="828.6" style="font-size:10.6px">TP10621</text>
<text class="l" x="244.0" y="841.0" text-anchor="end" style="font-size:10.6px">111.4</text><text class="l" x="281.7" y="840.6" style="font-size:10.6px">TP117454</text>
<text class="l" x="244.0" y="853.0" text-anchor="end" style="font-size:10.6px">128.8</text><text class="l" x="281.7" y="852.7" style="font-size:10.6px">TP12223</text>
<text class="l" x="244.0" y="865.0" text-anchor="end" style="font-size:10.6px">132.3</text><text class="l" x="281.7" y="864.7" style="font-size:10.6px">TP31190</text>
<text class="l" x="244.0" y="877.1" text-anchor="end" style="font-size:10.6px">135.5</text><text class="l" x="281.7" y="876.7" style="font-size:10.6px">TP91298</text>
<text class="l" x="244.0" y="889.1" text-anchor="end" style="font-size:10.6px">149.8</text><text class="l" x="281.7" y="888.8" style="font-size:10.6px">TP25170</text>
<text class="l" x="244.0" y="901.2" text-anchor="end" style="font-size:10.6px">151.0</text><text class="l" x="281.7" y="900.8" style="font-size:10.6px">TP68620</text>
<text class="l" x="244.0" y="913.2" text-anchor="end" style="font-size:10.6px">162.3</text><text class="l" x="281.7" y="912.9" style="font-size:10.6px">TP109692</text>
<rect x="341.3" y="721.3" width="9.5" height="6.9" fill="#08088a"/>
<text class="q" fill="#08088a" transform="translate(356.8,724.6) rotate(90)" text-anchor="middle">qbranch-4</text>
<text class="t" x="430.10" y="485.20" text-anchor="middle">6B</text>
<path d="M425.35,536.45 A4.72,4.72 0 0 1 434.80,536.45 L434.80,695.60 A4.72,4.72 0 0 1 425.35,695.60 Z" fill="#fff" stroke="#000" stroke-width="0.85"/>
<path d="M414.45,525.50H416.45L425.35,536.45H434.80L443.70,525.50H445.60M414.45,537.55H416.45L425.35,541.73H434.80L443.70,537.55H445.60M414.45,549.61H416.45L425.35,557.16H434.80L443.70,549.61H445.60M414.45,561.66H416.45L425.35,575.34H434.80L443.70,561.66H445.60M414.45,573.72H416.45L425.35,579.14H434.80L443.70,573.72H445.60M414.45,585.77H416.45L425.35,598.80H434.80L443.70,585.77H445.60M414.45,597.83H416.45L425.35,611.69H434.80L443.70,597.83H445.60M414.45,609.88H416.45L425.35,616.34H434.80L443.70,609.88H445.60M414.45,621.94H416.45L425.35,618.03H434.80L443.70,621.94H445.60M414.45,634.00H416.45L425.35,624.59H434.80L443.70,634.00H445.60M414.45,646.05H416.45L425.35,645.09H434.80L443.70,646.05H445.60M414.45,658.11H416.45L425.35,652.70H434.80L443.70,658.11H445.60M414.45,670.16H416.45L425.35,655.66H434.80L443.70,670.16H445.60M414.45,682.22H416.45L425.35,661.15H434.80L443.70,682.22H445.60M414.45,694.27H416.45L425.35,679.54H434.80L443.70,694.27H445.60M414.45,706.33H416.45L425.35,695.60H434.80L443.70,706.33H445.60" fill="none" stroke="#000" stroke-width="0.9"/>
<text class="l" x="411.4" y="529.6" text-anchor="end" style="font-size:10.6px">0.0</text><text class="l" x="449.0" y="529.3" style="font-size:10.6px">TP101099</text>
<text class="l" x="411.4" y="541.7" text-anchor="end" style="font-size:10.6px">2.5</text><text class="l" x="449.0" y="541.3" style="font-size:10.6px">TP107186</text>
<text class="l" x="411.4" y="553.8" text-anchor="end" style="font-size:10.6px">9.8</text><text class="l" x="449.0" y="553.4" style="font-size:10.6px">TP114378</text>
<text class="l" x="411.4" y="565.8" text-anchor="end" style="font-size:10.6px">18.4</text><text class="l" x="449.0" y="565.5" style="font-size:10.6px">TP115588</text>
<text class="l" x="411.4" y="577.9" text-anchor="end" style="font-size:10.6px">20.2</text><text class="l" x="449.0" y="577.5" style="font-size:10.6px">TP57661</text>
<text class="l" x="411.4" y="589.9" text-anchor="end" style="font-size:10.6px">29.5</text><text class="l" x="449.0" y="589.6" style="font-size:10.6px">TP67253</text>
<text class="l" x="411.4" y="602.0" text-anchor="end" style="font-size:10.6px">35.6</text><text class="l" x="449.0" y="601.6" style="font-size:10.6px">TP8336</text>
<text class="l" x="411.4" y="614.0" text-anchor="end" style="font-size:10.6px">37.8</text><text class="l" x="449.0" y="613.7" style="font-size:10.6px">TP114765</text>
<text class="l" x="411.4" y="626.1" text-anchor="end" style="font-size:10.6px">38.6</text><text class="l" x="449.0" y="625.7" style="font-size:10.6px">TP106069</text>
<text class="l" x="411.4" y="638.1" text-anchor="end" style="font-size:10.6px">41.7</text><text class="l" x="449.0" y="637.8" style="font-size:10.6px">TP52903</text>
<text class="l" x="411.4" y="650.2" text-anchor="end" style="font-size:10.6px">51.4</text><text class="l" x="449.0" y="649.8" style="font-size:10.6px">TP114819</text>
<text class="l" x="411.4" y="662.2" text-anchor="end" style="font-size:10.6px">55.0</text><text class="l" x="449.0" y="661.9" style="font-size:10.6px">TP54133</text>
<text class="l" x="411.4" y="674.3" text-anchor="end" style="font-size:10.6px">56.4</text><text class="l" x="449.0" y="674.0" style="font-size:10.6px">TP41801</text>
<text class="l" x="411.4" y="686.4" text-anchor="end" style="font-size:10.6px">59.0</text><text class="l" x="449.0" y="686.0" style="font-size:10.6px">TP96692</text>
<text class="l" x="411.4" y="698.4" text-anchor="end" style="font-size:10.6px">67.7</text><text class="l" x="449.0" y="698.1" style="font-size:10.6px">SSR44</text>
<text class="l" x="411.4" y="710.5" text-anchor="end" style="font-size:10.6px">75.3</text><text class="l" x="449.0" y="710.1" style="font-size:10.6px">TP51277</text>
<rect x="508.7" y="644.8" width="9.7" height="8.1" fill="#000000"/>
<text class="q" fill="#000000" transform="translate(523.9,649.0) rotate(90)" text-anchor="middle">qyield-3</text>
<text class="t" x="598.10" y="485.00" text-anchor="middle">8D</text>
<path d="M593.35,536.45 A4.52,4.52 0 0 1 602.40,536.45 L602.40,706.59 A4.52,4.52 0 0 1 593.35,706.59 Z" fill="#fff" stroke="#000" stroke-width="0.85"/>
<path d="M582.45,500.90H584.45L593.35,536.45H602.40L611.30,500.90H613.20M582.45,512.95H584.45L593.35,555.47H602.40L611.30,512.95H613.20M582.45,525.01H584.45L593.35,560.76H602.40L611.30,525.01H613.20M582.45,537.06H584.45L593.35,569.42H602.40L611.30,537.06H613.20M582.45,549.12H584.45L593.35,589.50H602.40L611.30,549.12H613.20M582.45,561.17H584.45L593.35,596.26H602.40L611.30,561.17H613.20M582.45,573.23H584.45L593.35,604.93H602.40L611.30,573.23H613.20M582.45,585.28H584.45L593.35,614.44H602.40L611.30,585.28H613.20M582.45,597.34H584.45L593.35,623.95H602.40L611.30,597.34H613.20M582.45,609.39H584.45L593.35,629.03H602.40L611.30,609.39H613.20M582.45,621.45H584.45L593.35,638.54H602.40L611.30,621.45H613.20M582.45,633.50H584.45L593.35,645.93H602.40L611.30,633.50H613.20M582.45,645.56H584.45L593.35,649.95H602.40L611.30,645.56H613.20M582.45,657.62H584.45L593.35,658.19H602.40L611.30,657.62H613.20M582.45,669.67H584.45L593.35,666.86H602.40L611.30,669.67H613.20M582.45,681.72H584.45L593.35,670.03H602.40L611.30,681.72H613.20M582.45,693.78H584.45L593.35,680.60H602.40L611.30,693.78H613.20M582.45,705.84H584.45L593.35,685.25H602.40L611.30,705.84H613.20M582.45,717.89H584.45L593.35,690.32H602.40L611.30,717.89H613.20M582.45,729.94H584.45L593.35,699.41H602.40L611.30,729.94H613.20M582.45,742.00H584.45L593.35,706.59H602.40L611.30,742.00H613.20" fill="none" stroke="#000" stroke-width="0.9"/>
<text class="l" x="579.4" y="505.0" text-anchor="end" style="font-size:10.6px">0.0</text><text class="l" x="616.6" y="504.7" style="font-size:10.6px">TP13451</text>
<text class="l" x="579.4" y="517.1" text-anchor="end" style="font-size:10.6px">9.0</text><text class="l" x="616.6" y="516.7" style="font-size:10.6px">TP18528</text>
<text class="l" x="579.4" y="529.2" text-anchor="end" style="font-size:10.6px">11.5</text><text class="l" x="616.6" y="528.8" style="font-size:10.6px">TP3549</text>
<text class="l" x="579.4" y="541.2" text-anchor="end" style="font-size:10.6px">15.6</text><text class="l" x="616.6" y="540.9" style="font-size:10.6px">TP119289</text>
<text class="l" x="579.4" y="553.3" text-anchor="end" style="font-size:10.6px">25.1</text><text class="l" x="616.6" y="552.9" style="font-size:10.6px">TP23451</text>
<text class="l" x="579.4" y="565.3" text-anchor="end" style="font-size:10.6px">28.3</text><text class="l" x="616.6" y="565.0" style="font-size:10.6px">TP25453</text>
<text class="l" x="579.4" y="577.4" text-anchor="end" style="font-size:10.6px">32.4</text><text class="l" x="616.6" y="577.0" style="font-size:10.6px">TP74327</text>
<text class="l" x="579.4" y="589.4" text-anchor="end" style="font-size:10.6px">36.9</text><text class="l" x="616.6" y="589.1" style="font-size:10.6px">TP76670</text>
<text class="l" x="579.4" y="601.5" text-anchor="end" style="font-size:10.6px">41.4</text><text class="l" x="616.6" y="601.1" style="font-size:10.6px">TP50319</text>
<text class="l" x="579.4" y="613.5" text-anchor="end" style="font-size:10.6px">43.8</text><text class="l" x="616.6" y="613.2" style="font-size:10.6px">TP117650</text>
<text class="l" x="579.4" y="625.6" text-anchor="end" style="font-size:10.6px">48.3</text><text class="l" x="616.6" y="625.2" style="font-size:10.6px">TP113087</text>
<text class="l" x="579.4" y="637.6" text-anchor="end" style="font-size:10.6px">51.8</text><text class="l" x="616.6" y="637.3" style="font-size:10.6px">TP36653</text>
<text class="l" x="579.4" y="649.7" text-anchor="end" style="font-size:10.6px">53.7</text><text class="l" x="616.6" y="649.4" style="font-size:10.6px">TP96996</text>
<text class="l" x="579.4" y="661.8" text-anchor="end" style="font-size:10.6px">57.6</text><text class="l" x="616.6" y="661.4" style="font-size:10.6px">TP121023</text>
<text class="l" x="579.4" y="673.8" text-anchor="end" style="font-size:10.6px">61.7</text><text class="l" x="616.6" y="673.5" style="font-size:10.6px">TP53370</text>
<text class="l" x="579.4" y="685.9" text-anchor="end" style="font-size:10.6px">63.2</text><text class="l" x="616.6" y="685.5" style="font-size:10.6px">TP44372</text>
<text class="l" x="579.4" y="697.9" text-anchor="end" style="font-size:10.6px">68.2</text><text class="l" x="616.6" y="697.6" style="font-size:10.6px">TP64667</text>
<text class="l" x="579.4" y="710.0" text-anchor="end" style="font-size:10.6px">70.4</text><text class="l" x="616.6" y="709.6" style="font-size:10.6px">TP121012</text>
<text class="l" x="579.4" y="722.0" text-anchor="end" style="font-size:10.6px">72.8</text><text class="l" x="616.6" y="721.7" style="font-size:10.6px">TP110657</text>
<text class="l" x="579.4" y="734.1" text-anchor="end" style="font-size:10.6px">77.1</text><text class="l" x="616.6" y="733.7" style="font-size:10.6px">TP118899</text>
<text class="l" x="579.4" y="746.1" text-anchor="end" style="font-size:10.6px">80.5</text><text class="l" x="616.6" y="745.8" style="font-size:10.6px">TP119930</text>
<rect x="676.0" y="568.8" width="10.1" height="21.0" fill="#008000"/>
<text class="q" fill="#008000" transform="translate(692.1,579.9) rotate(90)" text-anchor="middle">qdiameter-3</text>
<rect x="676.0" y="690.0" width="10.0" height="9.7" fill="#08088a"/>
<text class="q" fill="#08088a" transform="translate(691.5,694.5) rotate(90)" text-anchor="middle">qbranch-5</text>
</g>
</svg>
</body></html>
